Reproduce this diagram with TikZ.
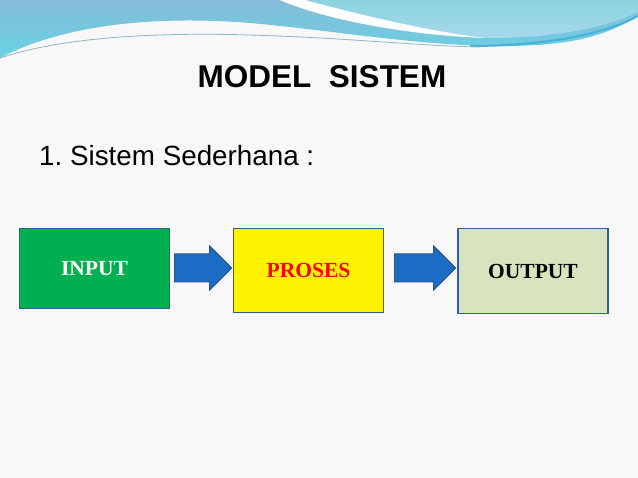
\documentclass[tikz,border=0pt]{standalone}
\usepackage{fontspec}
\setmainfont{Liberation Sans}
\newfontfamily\boxfont{Liberation Serif}
\usetikzlibrary{shapes.arrows, calc, math}
\definecolor{mybg}{RGB}{248,248,248}
\definecolor{wavtop}{RGB}{132,188,216}
\definecolor{wavbot}{RGB}{104,210,228}
\definecolor{wavlite}{RGB}{138,212,222}
\definecolor{wavlite2}{RGB}{168,216,236}
\definecolor{wavedge}{RGB}{70,178,214}
\definecolor{thinln}{RGB}{140,184,200}
\definecolor{myline}{RGB}{46,95,150}
\definecolor{mygreen}{RGB}{0,176,80}
\definecolor{myolive}{RGB}{215,228,189}
\definecolor{myarr}{RGB}{28,108,196}
\definecolor{myarrline}{RGB}{40,86,146}

\begin{document}
\frenchspacing
\begin{tikzpicture}[x=1pt, y=-1pt,
 blok/.style={draw=myline, line width=1.3pt, minimum width=150pt, inner sep=0pt,
  font=\boxfont\bfseries\fontsize{21.5}{24}\selectfont},
 panah/.style={single arrow, draw=myarrline, fill=myarr, line width=1pt,
  minimum height=57pt, inner xsep=0pt, inner ysep=13.5pt, anchor=tail,
  single arrow head extend=8pt, single arrow tip angle=90}
]
\tikzmath{
\yrow=270;
}

%background
\useasboundingbox (0,0) rectangle (638,478);
\fill[mybg] (0,0) rectangle (638,478);

%wave
\shade[top color=wavtop, bottom color=wavbot] (0,0) -- (638,0) -- (638,16) .. controls (600,40) and (560,46) .. (500,46) .. controls (420,46) and (330,30) .. (250,23) .. controls (150,15) and (60,26) .. (0,58) -- cycle;
\shade[top color=wavlite, bottom color=wavlite2] (305,0) -- (638,0) -- (638,12) .. controls (600,30) and (550,38) .. (485,38) .. controls (420,30) and (350,12) .. (305,0) -- cycle;
\fill[white] (280,0) .. controls (330,22) and (420,36) .. (485,38) .. controls (420,30) and (350,12) .. (305,0) -- cycle;
\draw[wavedge, line width=2pt] (470,46) .. controls (540,46) and (600,36) .. (638,16);
\draw[thinln, line width=0.8pt] (0,58) .. controls (60,38) and (150,32) .. (250,35) .. controls (350,38) and (420,46) .. (480,47);

%title
\node[anchor=base, inner sep=0pt, font=\bfseries\fontsize{31.5}{36}\selectfont] (judul) at (322,88) {MODEL\ \ SISTEM};
\node[anchor=base west, inner sep=0pt, font=\fontsize{27.8}{32}\selectfont] (sub) at (39,166) {1. Sistem Sederhana :};

%boxes
\node[blok, fill=mygreen, text=white, minimum height=80pt] (inp) at (94.5,\yrow-1.5) {INPUT};
\node[blok, fill=yellow, text=red, minimum height=84pt] (pro) at (308.5,\yrow+0.5) {PROSES};
\node[blok, fill=myolive, text=black, minimum height=85pt] (out) at (533,\yrow+1) {OUTPUT};

%arrows
\node[panah] (arrA) at ($(inp.east)+(4,-0.5)$) {};
\node[panah, minimum height=61pt] (arrB) at ($(pro.east)+(10,-2.5)$) {};

\end{tikzpicture}
\end{document}
